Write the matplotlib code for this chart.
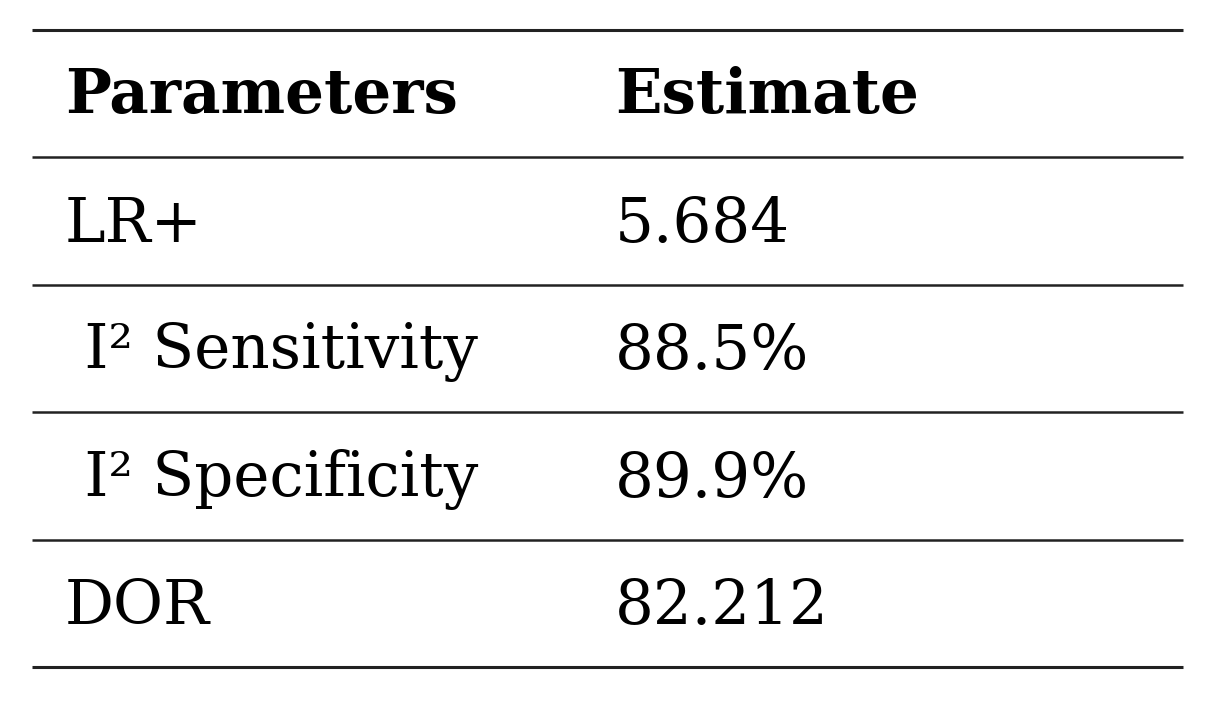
import matplotlib.pyplot as plt

header = ["Parameters", "Estimate"]
parameters = ["LR+", " I\u00b2 Sensitivity", " I\u00b2 Specificity", "DOR"]
estimates = ["5.684", "88.5%", "89.9%", "82.212"]

plt.rcParams['font.family'] = ['DejaVu Serif']

fig = plt.figure(figsize=(12.15, 7.06), dpi=100)
ax = fig.add_axes([0, 0, 1, 1])
ax.set_xlim(0, 1215)
ax.set_ylim(706, 0)
ax.axis('off')

line_y = [30, 157, 285, 412, 540, 667]
for i, y in enumerate(line_y):
    lw = 2.2 if i in (0, len(line_y) - 1) else 1.8
    ax.plot([32, 1183], [y, y], color='#222222', lw=lw, solid_capstyle='butt')

col_x = [65, 615]
fs = 44
ax.text(col_x[0], 96, header[0], fontsize=fs, fontweight='bold', va='center')
ax.text(col_x[1], 96, header[1], fontsize=fs, fontweight='bold', va='center')
for i, (p, e) in enumerate(zip(parameters, estimates)):
    y = (line_y[i + 1] + line_y[i + 2]) / 2 + 4
    ax.text(col_x[0], y, p, fontsize=fs, va='center')
    ax.text(col_x[1], y, e, fontsize=fs, va='center')

fig.savefig("out.png", dpi=100)
